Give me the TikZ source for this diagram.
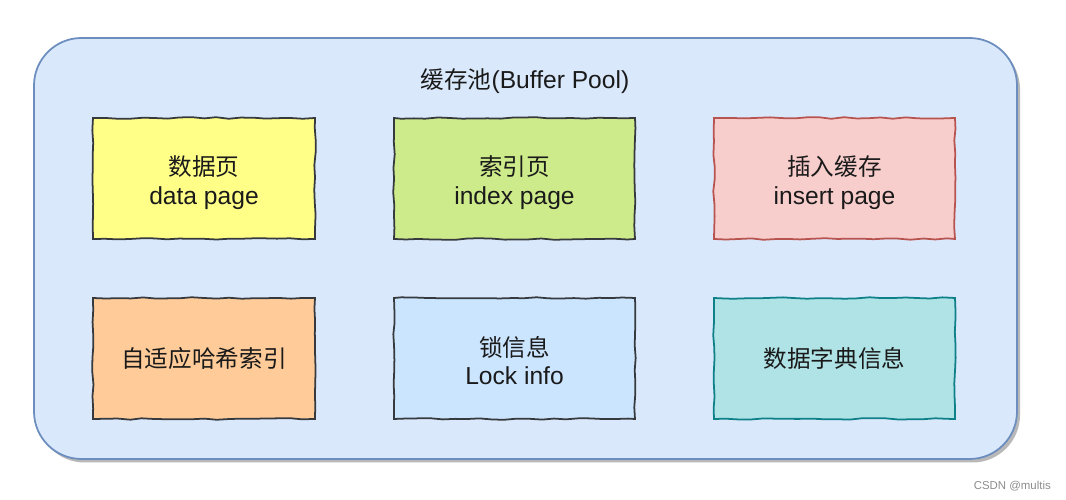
\documentclass[tikz,border=0pt]{standalone}
\usepackage{fontspec}
\setmainfont{Liberation Sans}
\newfontfamily\cjk[Scale=0.96]{Noto Sans CJK SC}
\usetikzlibrary{positioning, shadows, decorations.pathmorphing}
\definecolor{poolfill}{HTML}{DAE8FC}
\definecolor{poolline}{HTML}{6C8EBF}
\definecolor{dkline}{HTML}{36393D}
\definecolor{txtdark}{HTML}{1A1A1A}
\definecolor{yellowfill}{HTML}{FFFF88}
\definecolor{greenfill}{HTML}{CDEB8B}
\definecolor{redfill}{HTML}{F8CECC}
\definecolor{redline}{HTML}{B85450}
\definecolor{orangefill}{HTML}{FFCC99}
\definecolor{bluefill}{HTML}{CCE5FF}
\definecolor{tealfill}{HTML}{B0E3E6}
\definecolor{tealline}{HTML}{0E8088}

\tikzset{
    sketch/.style={decorate, decoration={random steps, segment length=7pt, amplitude=0.45pt}},
    memblock/.style={sketch, draw=dkline, line width=1pt, minimum height=2.42cm,
        inner sep=0pt, outer sep=0pt, text=txtdark, font=\fontsize{14}{16}\selectfont},
    twoline/.style={text height=30pt, text depth=16.2pt},
}

\begin{document}
\begin{tikzpicture}
\pgfmathsetseed{7}
\useasboundingbox (0,0) rectangle (21.32,10);

\node[draw=poolline, fill=poolfill, line width=1pt, rounded corners=0.95cm,
    minimum width=19.66cm, minimum height=8.42cm, inner sep=0pt,
    drop shadow={shadow xshift=0.06cm, shadow yshift=-0.07cm, fill=black!35, opacity=0.8}]
    (pool) at (10.51,5.03) {};

\node[text=txtdark, font=\fontsize{14}{16}\selectfont] (title) at (10.5,8.38) {{\cjk 缓存池}(Buffer Pool)};

\node[memblock, twoline, fill=yellowfill, minimum width=4.44cm] (datapage) at (4.08,6.43) {
    \begin{tabular}{c}
    {\cjk 数据页}\\
    data page
    \end{tabular}
    };
\node[memblock, twoline, fill=greenfill, minimum width=4.82cm, right=1.58cm of datapage] (indexpage) {
    \begin{tabular}{c}
    {\cjk 索引页}\\
    index page
    \end{tabular}
    };
\node[memblock, twoline, fill=redfill, draw=redline, minimum width=4.82cm, right=1.58cm of indexpage] (insertbuf) {
    \begin{tabular}{c}
    {\cjk 插入缓存}\\
    insert page
    \end{tabular}
    };

    % -------

\node[memblock, fill=orangefill, minimum width=4.44cm, below=1.18cm of datapage] (hashidx) {
    {\cjk 自适应哈希索引}
    };
\node[memblock, twoline, fill=bluefill, minimum width=4.82cm, below=1.18cm of indexpage] (lockinfo) {
    \begin{tabular}{c}
    {\cjk 锁信息}\\
    Lock info
    \end{tabular}
    };
\node[memblock, fill=tealfill, draw=tealline, minimum width=4.82cm, below=1.18cm of insertbuf] (dictinfo) {
    {\cjk 数据字典信息}
    };

\node[anchor=east, text=black!45, font=\fontsize{6.5}{8}\selectfont] (mark) at (21.14,0.28) {CSDN @multis};

\end{tikzpicture}
\end{document}
